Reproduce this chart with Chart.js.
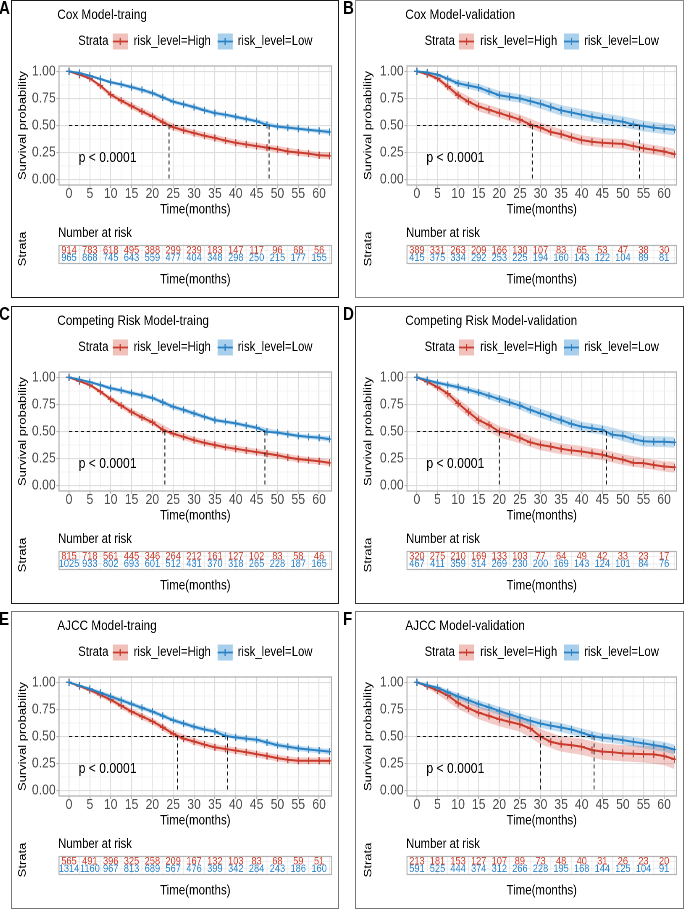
<!DOCTYPE html>
<html>
<head>
<meta charset="utf-8">
<script src="https://cdn.jsdelivr.net/npm/chart.js@4.4.1/dist/chart.umd.min.js"></script>
<style>
  body { margin: 0; background: #fff; width: 685px; height: 912px; position: relative; overflow: hidden; }
  canvas { position: absolute; transform-origin: 0 0; }
  .box { position: absolute; box-sizing: border-box; border: 1.5px solid #222; pointer-events: none; }
  .letter { position: absolute; font-family: "Liberation Sans", Arial, sans-serif; font-weight: bold;
            font-size: 18px; line-height: 18px; color: #000; transform-origin: 0 0; }
</style>
</head>
<body>
<script>
// time grids (months)
const tGrid = [0,2.5,5,7.5,10,12.5,15,17.5,20,22.5,25,27.5,30,32.5,35,37.5,40,42.5,45,47.5,50,52.5,55,57.5,60,62.5];
const bandGrid = [0,5,10,15,20,25,30,35,40,45,50,55,60,62.5];
const riskTimes = [0,5,10,15,20,25,30,35,40,45,50,55,60];
const yGrid = [0,0.125,0.25,0.375,0.5,0.625,0.75,0.875,1];

const titles = ["Cox Model-traing", "Cox Model-validation", "Competing Risk Model-traing",
  "Competing Risk Model-validation", "AJCC Model-traing", "AJCC Model-validation"];
const medianHigh = [24, 28, 23, 20, 26, 30];
const medianLow = [48, 54, 47, 46, 38, 43];

// A - Cox training
const coxTrainHigh = [1.00,0.97,0.935,0.87,0.785,0.73,0.68,0.63,0.585,0.53,0.485,0.455,0.43,0.405,0.385,0.36,0.34,0.325,0.31,0.295,0.28,0.26,0.25,0.24,0.225,0.22];
const coxTrainLow = [1.00,0.985,0.96,0.93,0.90,0.88,0.855,0.83,0.80,0.76,0.72,0.695,0.67,0.64,0.615,0.60,0.58,0.56,0.54,0.505,0.49,0.48,0.47,0.46,0.45,0.44];
const coxTrainHighUpper = [1.00,0.95,0.81,0.71,0.615,0.515,0.46,0.415,0.37,0.34,0.31,0.28,0.255,0.25];
const coxTrainHighLower = [1.00,0.92,0.76,0.65,0.555,0.455,0.40,0.355,0.31,0.28,0.25,0.22,0.195,0.19];
const coxTrainLowUpper = [1.00,0.97,0.915,0.875,0.82,0.74,0.69,0.635,0.60,0.56,0.51,0.49,0.47,0.465];
const coxTrainLowLower = [1.00,0.95,0.885,0.835,0.78,0.70,0.65,0.595,0.56,0.52,0.47,0.45,0.43,0.415];
const coxTrainRiskHigh = [914,783,618,495,388,299,239,183,147,117,96,68,56];
const coxTrainRiskLow = [965,868,745,643,559,477,404,348,298,250,215,177,155];

// B - Cox validation
const coxValidHigh = [1.00,0.975,0.935,0.86,0.78,0.72,0.675,0.645,0.615,0.585,0.555,0.51,0.48,0.44,0.42,0.39,0.365,0.35,0.34,0.335,0.33,0.31,0.29,0.275,0.26,0.235];
const coxValidLow = [1.00,0.99,0.97,0.93,0.89,0.87,0.85,0.815,0.78,0.765,0.75,0.725,0.70,0.67,0.64,0.62,0.60,0.58,0.565,0.55,0.535,0.51,0.495,0.48,0.47,0.46];
const coxValidHighUpper = [1.00,0.96,0.82,0.72,0.66,0.60,0.525,0.465,0.41,0.385,0.375,0.335,0.305,0.285];
const coxValidHighLower = [1.00,0.91,0.74,0.63,0.57,0.51,0.435,0.375,0.32,0.295,0.285,0.245,0.215,0.19];
const coxValidLowUpper = [1.00,0.985,0.92,0.885,0.82,0.79,0.745,0.69,0.65,0.615,0.585,0.545,0.52,0.51];
const coxValidLowLower = [1.00,0.955,0.86,0.815,0.74,0.71,0.655,0.59,0.55,0.515,0.485,0.445,0.42,0.41];
const coxValidRiskHigh = [389,331,263,209,166,130,107,83,65,53,47,38,30];
const coxValidRiskLow = [415,375,334,292,253,225,194,160,143,122,104,89,81];

// C - Competing risk training
const crTrainHigh = [1.00,0.965,0.93,0.87,0.80,0.74,0.68,0.63,0.585,0.515,0.48,0.45,0.42,0.395,0.375,0.355,0.34,0.325,0.31,0.295,0.28,0.26,0.245,0.235,0.225,0.21];
const crTrainLow = [1.00,0.98,0.957,0.93,0.90,0.88,0.856,0.835,0.81,0.77,0.728,0.70,0.667,0.635,0.605,0.59,0.575,0.555,0.535,0.497,0.49,0.475,0.46,0.45,0.443,0.43];
const crTrainHighUpper = [1.00,0.945,0.825,0.71,0.615,0.51,0.45,0.405,0.37,0.34,0.31,0.275,0.255,0.24];
const crTrainHighLower = [1.00,0.915,0.775,0.65,0.555,0.45,0.39,0.345,0.31,0.28,0.25,0.215,0.195,0.18];
const crTrainLowUpper = [1.00,0.97,0.92,0.875,0.83,0.75,0.69,0.625,0.595,0.555,0.51,0.48,0.465,0.455];
const crTrainLowLower = [1.00,0.945,0.88,0.835,0.79,0.705,0.645,0.585,0.555,0.515,0.47,0.44,0.42,0.405];
const crTrainRiskHigh = [815,718,561,445,346,264,212,161,127,102,83,58,46];
const crTrainRiskLow = [1025,933,802,693,601,512,431,370,318,265,228,187,165];

// D - Competing risk validation
const crValidHigh = [1.00,0.96,0.91,0.85,0.76,0.68,0.605,0.56,0.498,0.475,0.44,0.40,0.376,0.36,0.34,0.325,0.315,0.30,0.285,0.26,0.24,0.21,0.208,0.19,0.177,0.17];
const crValidLow = [1.00,0.975,0.95,0.93,0.91,0.885,0.86,0.83,0.80,0.77,0.74,0.70,0.667,0.635,0.605,0.57,0.545,0.53,0.515,0.47,0.46,0.43,0.41,0.405,0.405,0.40];
const crValidHighUpper = [1.00,0.94,0.805,0.655,0.55,0.49,0.425,0.39,0.365,0.335,0.29,0.255,0.225,0.22];
const crValidHighLower = [1.00,0.88,0.715,0.555,0.445,0.39,0.325,0.29,0.265,0.235,0.19,0.16,0.13,0.12];
const crValidLowUpper = [1.00,0.97,0.935,0.89,0.835,0.78,0.71,0.65,0.59,0.56,0.51,0.46,0.455,0.45];
const crValidLowLower = [1.00,0.93,0.885,0.83,0.765,0.70,0.625,0.56,0.50,0.47,0.41,0.36,0.355,0.35];
const crValidRiskHigh = [320,275,210,169,133,103,77,64,49,42,33,23,17];
const crValidRiskLow = [467,411,359,314,269,230,200,169,143,124,101,84,76];

// E - AJCC training
const ajccTrainHigh = [1.00,0.965,0.93,0.885,0.84,0.785,0.73,0.685,0.64,0.585,0.525,0.48,0.454,0.425,0.40,0.385,0.37,0.355,0.337,0.32,0.30,0.285,0.276,0.276,0.276,0.275];
const ajccTrainLow = [1.00,0.97,0.94,0.905,0.87,0.835,0.80,0.765,0.73,0.69,0.65,0.62,0.59,0.565,0.546,0.505,0.492,0.48,0.47,0.445,0.42,0.405,0.39,0.38,0.37,0.36];
const ajccTrainHighUpper = [1.00,0.95,0.865,0.76,0.67,0.555,0.485,0.43,0.40,0.367,0.33,0.306,0.306,0.306];
const ajccTrainHighLower = [1.00,0.91,0.815,0.70,0.61,0.495,0.423,0.37,0.34,0.307,0.27,0.246,0.246,0.245];
const ajccTrainLowUpper = [1.00,0.955,0.89,0.822,0.752,0.672,0.612,0.568,0.515,0.493,0.444,0.415,0.395,0.386];
const ajccTrainLowLower = [1.00,0.925,0.85,0.778,0.708,0.628,0.568,0.524,0.47,0.447,0.396,0.365,0.345,0.334];
const ajccTrainRiskHigh = [565,491,396,325,258,209,167,132,103,83,68,59,51];
const ajccTrainRiskLow = [1314,1160,967,813,689,567,476,399,342,284,243,186,160];

// F - AJCC validation
const ajccValidHigh = [1.00,0.965,0.926,0.88,0.81,0.76,0.72,0.69,0.66,0.635,0.613,0.575,0.50,0.45,0.43,0.42,0.405,0.375,0.36,0.355,0.344,0.34,0.337,0.335,0.32,0.29];
const ajccValidLow = [1.00,0.975,0.95,0.91,0.87,0.835,0.80,0.77,0.736,0.705,0.675,0.645,0.62,0.60,0.583,0.565,0.535,0.505,0.49,0.48,0.466,0.45,0.436,0.42,0.405,0.38];
const ajccValidHighUpper = [1.00,0.96,0.865,0.78,0.725,0.68,0.57,0.50,0.48,0.435,0.42,0.415,0.405,0.38];
const ajccValidHighLower = [1.00,0.89,0.755,0.66,0.595,0.545,0.43,0.36,0.33,0.285,0.27,0.26,0.235,0.20];
const ajccValidLowUpper = [1.00,0.97,0.90,0.835,0.775,0.715,0.66,0.625,0.575,0.53,0.51,0.48,0.45,0.425];
const ajccValidLowLower = [1.00,0.93,0.84,0.765,0.70,0.635,0.58,0.54,0.495,0.45,0.425,0.39,0.36,0.335];
const ajccValidRiskHigh = [213,181,153,127,107,89,73,48,40,31,26,23,20];
const ajccValidRiskLow = [591,525,444,374,312,266,228,195,168,144,125,104,91];

const panelData = [
  { high: coxTrainHigh, low: coxTrainLow, highUp: coxTrainHighUpper, highLo: coxTrainHighLower, lowUp: coxTrainLowUpper, lowLo: coxTrainLowLower, riskHigh: coxTrainRiskHigh, riskLow: coxTrainRiskLow },
  { high: coxValidHigh, low: coxValidLow, highUp: coxValidHighUpper, highLo: coxValidHighLower, lowUp: coxValidLowUpper, lowLo: coxValidLowLower, riskHigh: coxValidRiskHigh, riskLow: coxValidRiskLow },
  { high: crTrainHigh, low: crTrainLow, highUp: crTrainHighUpper, highLo: crTrainHighLower, lowUp: crTrainLowUpper, lowLo: crTrainLowLower, riskHigh: crTrainRiskHigh, riskLow: crTrainRiskLow },
  { high: crValidHigh, low: crValidLow, highUp: crValidHighUpper, highLo: crValidHighLower, lowUp: crValidLowUpper, lowLo: crValidLowLower, riskHigh: crValidRiskHigh, riskLow: crValidRiskLow },
  { high: ajccTrainHigh, low: ajccTrainLow, highUp: ajccTrainHighUpper, highLo: ajccTrainHighLower, lowUp: ajccTrainLowUpper, lowLo: ajccTrainLowLower, riskHigh: ajccTrainRiskHigh, riskLow: ajccTrainRiskLow },
  { high: ajccValidHigh, low: ajccValidLow, highUp: ajccValidHighUpper, highLo: ajccValidHighLower, lowUp: ajccValidLowUpper, lowLo: ajccValidLowLower, riskHigh: ajccValidRiskHigh, riskLow: ajccValidRiskLow },
];

// the original figure is squeezed horizontally; draw wide and squeeze the same way
const SX = 0.84;

// panel boxes on the page (page px)
const boxes = [
  { letter: 'A', left: 11,  top: 0,   w: 328, h: 298, yw: 48, ytx: 11.5, border: '#1a1a1a' },
  { letter: 'B', left: 355, top: 0,   w: 329, h: 298, yw: 52, ytx: 13.3, border: '#8a8a8a' },
  { letter: 'C', left: 11,  top: 306, w: 328, h: 298, yw: 48, ytx: 11.5, border: '#1a1a1a' },
  { letter: 'D', left: 355, top: 306, w: 329, h: 298, yw: 52, ytx: 13.3, border: '#333333' },
  { letter: 'E', left: 11,  top: 611, w: 328, h: 298, yw: 48, ytx: 11.5, border: '#777777' },
  { letter: 'F', left: 355, top: 611, w: 329, h: 298, yw: 52, ytx: 13.3, border: '#777777' },
];

const RED = '#C93B2C', BLUE = '#2A82C4';
const RED_BAND = 'rgba(205,61,45,0.26)', BLUE_BAND = 'rgba(42,132,198,0.28)';
const RED_KEY = '#F0C0BA', BLUE_KEY = '#A8CFEC';
const FAM = '"Liberation Sans", Arial, sans-serif';
const css = s => s + 'px ' + FAM;

const pts = (xs, ys) => xs.map((x, i) => ({ x: x, y: ys[i] }));
const isMajorX = v => Math.abs(v % 5) < 1e-9;
const isMajorY = v => Math.abs(v * 4 - Math.round(v * 4)) < 1e-9;

function seg(ctx, x1, y1, x2, y2) {
  ctx.beginPath(); ctx.moveTo(x1, y1); ctx.lineTo(x2, y2); ctx.stroke();
}

function legendKey(ctx, x0, cy, col, fill) {
  const kw = 18;
  ctx.fillStyle = fill;
  ctx.fillRect(x0, cy - 8, kw, 16);
  ctx.strokeStyle = col;
  ctx.lineWidth = 1.8;
  seg(ctx, x0, cy, x0 + kw, cy);
  ctx.lineWidth = 1.4;
  seg(ctx, x0 + kw / 2, cy - 3.5, x0 + kw / 2, cy + 3.5);
  return kw;
}

const panelDeco = {
  id: 'panelDeco',
  afterDatasetsDraw(chart) {
    const { ctx, chartArea: a } = chart;
    ctx.save();
    ctx.strokeStyle = '#B3B3B3';
    ctx.lineWidth = 1.3;
    ctx.strokeRect(a.left, a.top, a.right - a.left, a.bottom - a.top);
    ctx.restore();
  },
  afterDraw(chart, args, opts) {
    const { ctx, chartArea: a, scales: { x, y } } = chart;
    const d = opts.data;
    const mid = (a.left + a.right) / 2;
    ctx.save();
    ctx.fillStyle = '#000';
    ctx.textBaseline = 'middle';
    ctx.textAlign = 'left';

    // title
    ctx.font = css(14);
    ctx.fillText(opts.title, a.left - 2, 15);

    // legend
    ctx.font = css(13.5);
    const items = ['Strata', 'risk_level=High', 'risk_level=Low'];
    const w = items.map(t => ctx.measureText(t).width);
    const total = w[0] + 5 + 18 + 7 + w[1] + 8 + 18 + 6 + w[2];
    let lx = mid - total / 2;
    const ly = 41.5;
    ctx.fillText(items[0], lx, ly); lx += w[0] + 5;
    lx += legendKey(ctx, lx, ly, RED, RED_KEY) + 7;
    ctx.fillStyle = '#000';
    ctx.fillText(items[1], lx, ly); lx += w[1] + 8;
    lx += legendKey(ctx, lx, ly, BLUE, BLUE_KEY) + 6;
    ctx.fillStyle = '#000';
    ctx.fillText(items[2], lx, ly);

    // p value
    ctx.font = css(14.5);
    ctx.fillText('p < 0.0001', x.getPixelForValue(2.3), y.getPixelForValue(0.2));

    // risk table
    ctx.font = css(13.5);
    ctx.fillText('Number at risk', a.left - 1, 233.5);
    const tTop = 245.5, tBot = 263.5, rowH = 250.3, rowL = 257.8;
    ctx.fillStyle = '#fff';
    ctx.fillRect(a.left, tTop, a.right - a.left, tBot - tTop);
    ctx.strokeStyle = '#EBEBEB';
    ctx.lineWidth = 0.9;
    tGrid.forEach(t => { const px = x.getPixelForValue(t); seg(ctx, px, tTop, px, tBot); });
    seg(ctx, a.left, rowH, a.right, rowH);
    seg(ctx, a.left, rowL, a.right, rowL);
    ctx.strokeStyle = '#B3B3B3';
    ctx.lineWidth = 1.2;
    ctx.strokeRect(a.left, tTop, a.right - a.left, tBot - tTop);
    ctx.font = css(11);
    ctx.textAlign = 'center';
    riskTimes.forEach((t, i) => {
      const px = x.getPixelForValue(t);
      ctx.fillStyle = '#D0402F';
      ctx.fillText(String(d.riskHigh[i]), px, rowH);
      ctx.fillStyle = '#2E86CB';
      ctx.fillText(String(d.riskLow[i]), px, rowL);
    });
    ctx.fillStyle = '#000';
    ctx.font = css(13.7);
    ctx.fillText('Time(months)', mid, 279.5);

    // "Strata" rotated label
    ctx.font = css(13);
    ctx.translate(opts.tx, 249);
    ctx.rotate(-Math.PI / 2);
    ctx.fillText('Strata', 0, 0);
    ctx.restore();
  }
};

boxes.forEach((b, i) => {
  const d = panelData[i];
  const cw = b.w / SX;            // canvas width before squeeze
  const cv = document.createElement('canvas');
  cv.width = cw; cv.height = b.h;
  cv.style.left = b.left + 'px'; cv.style.top = b.top + 'px';
  cv.style.transform = 'scaleX(' + SX + ')';
  document.body.appendChild(cv);

  const frame = document.createElement('div');
  frame.className = 'box';
  Object.assign(frame.style, { left: b.left + 'px', top: b.top + 'px', width: b.w + 'px', height: b.h + 'px', borderColor: b.border });
  document.body.appendChild(frame);

  const lab = document.createElement('div');
  lab.className = 'letter';
  lab.textContent = b.letter;
  Object.assign(lab.style, { left: (b.left - 12) + 'px', top: (b.top - 1) + 'px', transform: 'scaleX(' + SX + ')' });
  document.body.appendChild(lab);

  const mh = medianHigh[i], ml = medianLow[i];
  const dash = { borderColor: '#111', borderWidth: 1.1, borderDash: [4, 3], pointRadius: 0, fill: false, order: 0 };
  const curve = (col) => ({ borderColor: col, borderWidth: 2, pointStyle: 'cross', pointRadius: 3.6, pointBorderWidth: 1.3, pointBorderColor: col, pointHoverRadius: 0, fill: false });
  const band = { borderColor: 'rgba(0,0,0,0)', borderWidth: 1, pointRadius: 0 };
  const tpad = b.ytx / SX - 7.8;

  new Chart(cv, {
    type: 'line',
    data: {
      datasets: [
        Object.assign({ label: 'median', data: [{ x: 0, y: 0.5 }, { x: Math.max(mh, ml), y: 0.5 }] }, dash),
        Object.assign({ label: 'median high', data: [{ x: mh, y: 0.5 }, { x: mh, y: 0 }] }, dash),
        Object.assign({ label: 'median low', data: [{ x: ml, y: 0.5 }, { x: ml, y: 0 }] }, dash),
        Object.assign({ label: 'risk_level=Low', data: pts(tGrid, d.low), order: 1 }, curve(BLUE)),
        Object.assign({ label: 'risk_level=High', data: pts(tGrid, d.high), order: 2 }, curve(RED)),
        Object.assign({ label: 'low upper', data: pts(bandGrid, d.lowUp), fill: false, order: 3 }, band),
        Object.assign({ label: 'low lower', data: pts(bandGrid, d.lowLo), fill: '-1', backgroundColor: BLUE_BAND, order: 3 }, band),
        Object.assign({ label: 'high upper', data: pts(bandGrid, d.highUp), fill: false, order: 4 }, band),
        Object.assign({ label: 'high lower', data: pts(bandGrid, d.highLo), fill: '-1', backgroundColor: RED_BAND, order: 4 }, band),
      ]
    },
    options: {
      responsive: false,
      animation: false,
      devicePixelRatio: 2,
      events: [],
      layout: { padding: { left: 0, right: 7 / SX, top: 66, bottom: 80 } },
      plugins: {
        legend: { display: false },
        tooltip: { enabled: false },
        panelDeco: { data: d, title: titles[i], tx: b.ytx / SX }
      },
      scales: {
        x: {
          type: 'linear', min: -2.4, max: 63,
          afterBuildTicks: s => { s.ticks = tGrid.map(v => ({ value: v })); },
          afterFit: s => { s.height = 33; },
          border: { display: false },
          grid: {
            color: c => isMajorX(c.tick.value) ? '#DEDEDE' : '#F0F0F0',
            lineWidth: c => isMajorX(c.tick.value) ? 1.1 : 0.8,
            tickLength: 3,
            tickColor: c => isMajorX(c.tick.value) ? '#B3B3B3' : 'rgba(0,0,0,0)'
          },
          ticks: {
            autoSkip: false, maxRotation: 0, padding: -1.5, color: '#4D4D4D',
            font: { family: FAM, size: 14.5, lineHeight: 1 },
            callback: v => isMajorX(v) ? String(v) : ''
          },
          title: { display: true, text: 'Time(months)', color: '#000', font: { family: FAM, size: 13.7 }, padding: 0 }
        },
        y: {
          type: 'linear', min: -0.05, max: 1.05,
          afterBuildTicks: s => { s.ticks = yGrid.map(v => ({ value: v })); },
          afterFit: s => { s.width = b.yw / SX; },
          border: { display: false },
          grid: {
            color: c => isMajorY(c.tick.value) ? '#DEDEDE' : '#F0F0F0',
            lineWidth: c => isMajorY(c.tick.value) ? 1.1 : 0.8,
            tickLength: 3,
            tickColor: c => isMajorY(c.tick.value) ? '#B3B3B3' : 'rgba(0,0,0,0)'
          },
          ticks: {
            autoSkip: false, padding: 1, color: '#4D4D4D', font: { family: FAM, size: 14.5 },
            callback: v => isMajorY(v) ? v.toFixed(2) : ''
          },
          title: { display: true, text: 'Survival probability', color: '#000', font: { family: FAM, size: 13 }, padding: { top: tpad, bottom: 0 } }
        }
      }
    },
    plugins: [panelDeco]
  });
});
</script>
</body>
</html>
